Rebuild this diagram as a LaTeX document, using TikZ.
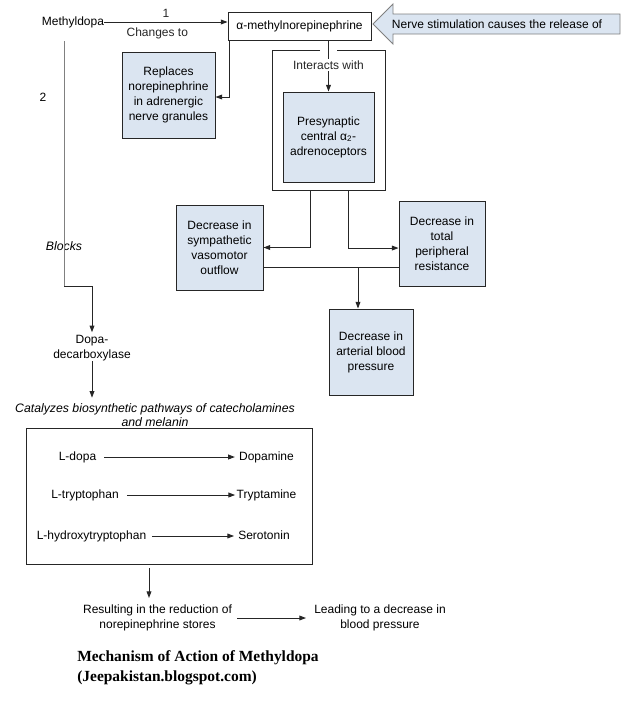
\documentclass[tikz,border=0pt]{standalone}
\usepackage{fontspec}
\setmainfont{Liberation Sans}
\newfontfamily\capfont{Liberation Serif}
\usepackage{tikz}
\usetikzlibrary{arrows.meta,positioning,calc}

\definecolor{boxblue}{RGB}{219,229,241}
\definecolor{linegray}{RGB}{128,128,128}

\tikzset{
  every node/.style={font=\fontsize{9}{11.2}\selectfont, inner sep=0pt},
  txt/.style={align=center},
  itxt/.style={align=center, font=\fontsize{9.2}{10.8}\selectfont\itshape},
  rowtxt/.style={text height=6.5pt, text depth=1.9pt},
  bluebox/.style={draw=black!85, fill=boxblue, align=center, line width=0.7pt},
  plainbox/.style={draw=black!85, fill=white, align=center, line width=0.7pt},
  conn/.style={line width=0.7pt, black!85},
  arr/.style={conn, -{Triangle[length=5pt,width=3.6pt]}}
}

\begin{document}
\begin{tikzpicture}[x=0.75pt,y=-0.75pt]
    \useasboundingbox (0,0) rectangle (625,711);

    % Methyldopa changes to alpha-methylnorepinephrine
    \node[txt, rowtxt] (mdopa) at (73,22) {Methyldopa};
    \node[plainbox, minimum width=107.25pt, minimum height=21pt] (amne) at (299.5,26) {α-methylnorepinephrine};
    \draw[arr] (mdopa.east) -- node[above=3pt] {1} node[pos=0.43, below=4pt] {Changes to} (mdopa.east -| amne.west);

    % Block arrow from the right
    \draw[draw=linegray, fill=boxblue, line width=0.7pt] (373,24) -- (393,4) -- (393,14) -- (620,14) -- (620,34) -- (393,34) -- (393,44) -- cycle;
    \node[txt] (nerve) at (497,24) {Nerve stimulation causes the release of};

    % Replaces norepinephrine
    \node[bluebox, minimum width=69.75pt, minimum height=64.5pt] (repl) at (168.5,95) {Replaces\\norepinephrine\\in adrenergic\\nerve granules};
    \draw[arr] ([xshift=1.5pt]amne.south west) |- ([yshift=-1.5pt]repl.east);

    % Frame round the receptors (gap at the connector)
    \draw[conn] (320,50) -| (272,190) -| (385,50) -- (337,50);
    \node[bluebox, minimum width=68.25pt, minimum height=67.5pt] (presyn) at (328.5,137) {Presynaptic\\central α\textsubscript{2}-\\adrenoceptors};
    \draw[arr] (presyn.north |- amne.south) -- node[pos=0.48, fill=white, inner sep=1pt] {Interacts with} (presyn.north);

    % Effects
    \coordinate (fleft) at (310,190);
    \coordinate (fright) at (348,190);
    \node[bluebox, minimum width=65.25pt, minimum height=63.75pt] (symp) at (219.5,247.5) {Decrease in\\sympathetic\\vasomotor\\outflow};
    \node[bluebox, minimum width=64.5pt, minimum height=63.75pt] (periph) at (442,243.5) {Decrease in\\total\\peripheral\\resistance};
    \node[bluebox, minimum width=63pt, minimum height=64.5pt] (artbp) at (371,352) {Decrease in\\arterial blood\\pressure};
    \draw[arr] (fleft) |- (symp.east);
    \draw[arr] (fright) |- ([yshift=-3.4pt]periph.west);
    \coordinate (join) at (358,267);
    \draw[conn] (symp.east |- join) -- (periph.west |- join);
    \draw[arr] (join) -- (join |- artbp.north);

    % Second pathway: blocks dopa-decarboxylase
    \node[txt] (two) at (43,97) {2};
    \node[itxt] (blocks) at (64,246) {Blocks};
    \coordinate (bend) at (64,286);
    \draw[conn, linegray] ([yshift=-10pt]mdopa.south -| bend) -- (bend);
    \node[txt] (dopa) at (92,348) {Dopa-\\decarboxylase};
    \draw[arr, shorten >=2pt] (bend) -| (dopa.north);
    \node[itxt] (cat) at (155,415) {Catalyzes biosynthetic pathways of catecholamines\\and melanin};
    \draw[arr, shorten >=4pt] (dopa.south) -- (dopa.south |- cat.north);

    % Reactions
    \node[draw=black!85, line width=0.7pt, minimum width=214.5pt, minimum height=102pt] (rxn) at (169,496) {};
    \node[rowtxt] (ldopa) at (77.5,457) {L-dopa};
    \node[rowtxt] (dopam) at (266.5,457) {Dopamine};
    \node[rowtxt] (ltryp) at (85,495) {L-tryptophan};
    \node[rowtxt] (tryptam) at (266.5,495) {Tryptamine};
    \node[rowtxt] (lhtp) at (91.5,536) {L-hydroxytryptophan};
    \node[rowtxt] (sero) at (264,536) {Serotonin};
    \draw[arr, shorten <=6pt, shorten >=3pt] (ldopa) -- (dopam);
    \draw[arr, shorten <=6pt, shorten >=1pt] (ltryp) -- (tryptam);
    \draw[arr, shorten <=4pt, shorten >=3pt] (lhtp) -- (sero);

    % Outcome
    \node[txt] (result) at (157.5,618) {Resulting in the reduction of\\norepinephrine stores};
    \node[txt] (leading) at (380,618) {Leading to a decrease in\\blood pressure};
    \draw[arr, shorten >=5pt] ([xshift=-15pt,yshift=-3pt]rxn.south) -- ([xshift=-15pt]rxn.south |- result.north);
    \draw[arr, shorten <=4pt, shorten >=6pt] (result) -- (leading);

    % Caption
    \node[anchor=base west, align=left, font=\capfont\bfseries\fontsize{11.6}{14.3}\selectfont] (caption) at (77,681) {Mechanism of Action of Methyldopa\\(Jeepakistan.blogspot.com)};
\end{tikzpicture}
\end{document}
